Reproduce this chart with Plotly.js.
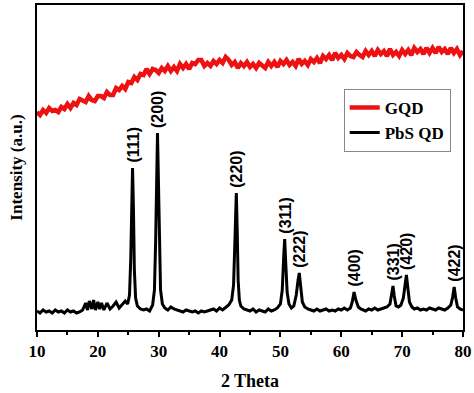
<!DOCTYPE html>
<html><head><meta charset="utf-8">
<script src="https://cdn.plot.ly/plotly-3.0.1.min.js"></script>
<style>html,body{margin:0;padding:0;background:#fff}#chart{width:474px;height:393px}</style>
</head><body><div id="chart"></div>
<script>
// GQD (red) trace: [2theta, intensity]
const gqdPoints = [[10,218],[10.5,215],[11,220],[11.5,217],[12,222],[12.5,219],[13,220],[13.5,218],[14,223],[14.5,221],[15,226],[15.5,222],[16,227],[16.5,225],[17,231],[17.5,230],[18,228],[18.5,234],[19,230],[19.5,229],[20,234],[20.5,234],[21,232],[21.5,238],[22,235],[22.5,235],[23,242],[23.5,240],[24,244],[24.5,241],[25,248],[25.5,247],[26,253],[26.5,250],[27,256],[27.5,255],[28,261],[28.5,256],[29,261],[29.5,260],[30,257],[30.5,262],[31,259],[31.5,264],[32,259],[32.5,263],[33,259],[33.5,266],[34,262],[34.5,266],[35,261],[35.5,267],[36,266],[36.5,270],[37,270],[37.5,264],[38,267],[38.5,264],[39,269],[39.5,266],[40,270],[40.5,267],[41,273],[41.5,270],[42,265],[42.5,268],[43,262],[43.5,267],[44,264],[44.5,268],[45,263],[45.5,266],[46,262],[46.5,267],[47,265],[47.5,262],[48,268],[48.5,264],[49,268],[49.5,263],[50,269],[50.5,266],[51,270],[51.5,265],[52,268],[52.5,264],[53,271],[53.5,266],[54,269],[54.5,265],[55,271],[55.5,268],[56,272],[56.5,267],[57,274],[57.5,271],[58,275],[58.5,270],[59,277],[59.5,272],[60,275],[60.5,271],[61,277],[61.5,274],[62,273],[62.5,278],[63,275],[63.5,273],[64,279],[64.5,275],[65,279],[65.5,274],[66,280],[66.5,276],[67,279],[67.5,274],[68,281],[68.5,275],[69,278],[69.5,274],[70,280],[70.5,276],[71,280],[71.5,275],[72,282],[72.5,278],[73,281],[73.5,276],[74,282],[74.5,277],[75,282],[75.5,277],[76,283],[76.5,278],[77,281],[77.5,276],[78,282],[78.5,277],[79,281],[79.5,275],[80,279]];

// PbS QD (black) trace: [2theta, intensity]
const pbsPoints = [[10,19],[10.5,17],[11,20],[11.5,18],[12,19],[12.5,17],[13,20],[13.5,18],[14,19],[14.5,17],[15,20],[15.5,18],[16,19],[16.5,17],[17,18],[17.5,20],[18,27],[18.3,20],[18.6,29],[19,21],[19.3,30],[19.6,20],[20,28],[20.3,21],[20.6,27],[21,20],[21.5,27],[22,21],[22.5,24],[23,28],[23.5,22],[24,26],[24.5,29],[24.9,26],
  [25.2,35],[25.4,70],[25.55,130],[25.7,162],[25.85,120],[26,60],[26.2,32],[26.5,24],[27,21],[27.5,20],[28,21],[28.5,19],[29,25],
  [29.3,40],[29.5,90],[29.65,160],[29.8,197],[29.95,150],[30.1,80],[30.3,40],[30.6,26],[31,22],[31.5,20],[32,23],[32.5,21],[33,20],[33.5,19],[34,18],[34.5,20],[35,19],[35.5,18],[36,19],[36.5,17],[37,19],[37.5,18],[38,19],[38.5,20],[39,21],[39.5,19],[40,22],[40.5,20],[41,23],[41.5,25],[42,30],[42.3,45],
  [42.55,95],[42.75,137],[42.9,100],[43.05,50],[43.25,30],[43.5,24],[44,21],[44.5,20],[45,19],[45.5,21],[46,18],[46.5,20],[47,19],[47.5,18],[48,21],[48.5,19],[49,20],[49.5,22],[50,26],[50.3,40],
  [50.55,75],[50.7,91],[50.85,70],[51.1,38],[51.4,26],[51.8,22],[52.2,24],[52.6,35],[52.9,50],[53.1,57],[53.3,45],[53.6,28],[54,23],[54.5,21],[55,20],[55.5,19],[56,21],[56.5,19],[57,20],[57.5,21],[58,19],[58.5,20],[59,19],[59.5,21],[60,20],[60.5,22],[61,20],[61.5,22],[61.8,28],[62.1,38],[62.4,30],[62.8,23],[63.2,21],[63.5,20],[64,19],[64.5,21],[65,20],[65.5,22],[66,20],[66.5,21],[67,22],[67.5,23],[68,26],[68.3,35],[68.5,44],[68.7,34],[69,24],[69.4,23],[69.8,25],[70.2,32],[70.5,48],[70.7,55],[70.9,44],[71.2,28],[71.6,23],[72,21],[72.5,22],[73,20],[73.5,21],[74,20],[74.5,22],[75,21],[75.5,20],[76,22],[76.5,21],[77,20],[77.5,22],[78,25],[78.3,33],[78.55,43],[78.8,32],[79.1,23],[79.5,21],[80,20]];

// Peak labels
const peakLabels = ["(111)","(200)","(220)","(311)","(222)","(400)","(331)","(420)","(422)"];
const peakPos = [25.7,29.8,42.75,50.7,53.1,62.1,68.5,70.7,78.55];
const peakTop = [162,197,137,91,57,38,44,55,43];

const serif = "Liberation Serif, Times New Roman, serif";
const sans = "Liberation Sans, Arial, sans-serif";

const traces = [
  {x: gqdPoints.map(p => p[0]), y: gqdPoints.map(p => p[1]), name: "GQD", type: "scatter", mode: "lines",
   line: {color: "#ee1111", width: 4.5}},
  {x: pbsPoints.map(p => p[0]), y: pbsPoints.map(p => p[1]), name: "PbS QD", type: "scatter", mode: "lines",
   line: {color: "#000000", width: 3}}
];

const annotations = peakLabels.map((t, i) => ({
  x: peakPos[i], y: peakTop[i], xref: "x", yref: "y",
  text: "<b>" + t + "</b>", showarrow: false, textangle: -90,
  xanchor: "center", yanchor: "bottom", yshift: 3,
  font: {family: sans, size: 16, color: "#000"}
}));

const layout = {
  width: 474, height: 393,
  margin: {l: 37, r: 11, t: 5, b: 63},
  paper_bgcolor: "#fff", plot_bgcolor: "#fff",
  showlegend: true,
  legend: {x: 0.72, y: 0.742, xanchor: "left", yanchor: "top",
    bgcolor: "#fff", bordercolor: "#888", borderwidth: 1,
    font: {family: serif, size: 17, color: "#000", weight: "bold"},
    tracegroupgap: 0},
  xaxis: {range: [10, 80], showgrid: false, zeroline: false,
    showline: true, linecolor: "#000", linewidth: 2, mirror: true,
    ticks: "outside", tickcolor: "#000", ticklen: 5, tickwidth: 2,
    tick0: 10, dtick: 10,
    minor: {ticks: "outside", ticklen: 3, tickwidth: 2, tickcolor: "#000", dtick: 5},
    tickfont: {family: serif, size: 17, color: "#000", weight: "bold"},
    title: {text: "<b>2 Theta</b>", font: {family: serif, size: 18, color: "#000"}, standoff: 14}},
  yaxis: {range: [0, 325], showgrid: false, zeroline: false,
    showline: true, linecolor: "#000", linewidth: 2, mirror: true,
    showticklabels: false, ticks: "",
    title: {text: "<b>Intensity (a.u.)</b>", font: {family: serif, size: 17, color: "#000"}, standoff: 8}},
  annotations: annotations
};

Plotly.newPlot("chart", traces, layout, {displayModeBar: false, staticPlot: true});
</script></body></html>
